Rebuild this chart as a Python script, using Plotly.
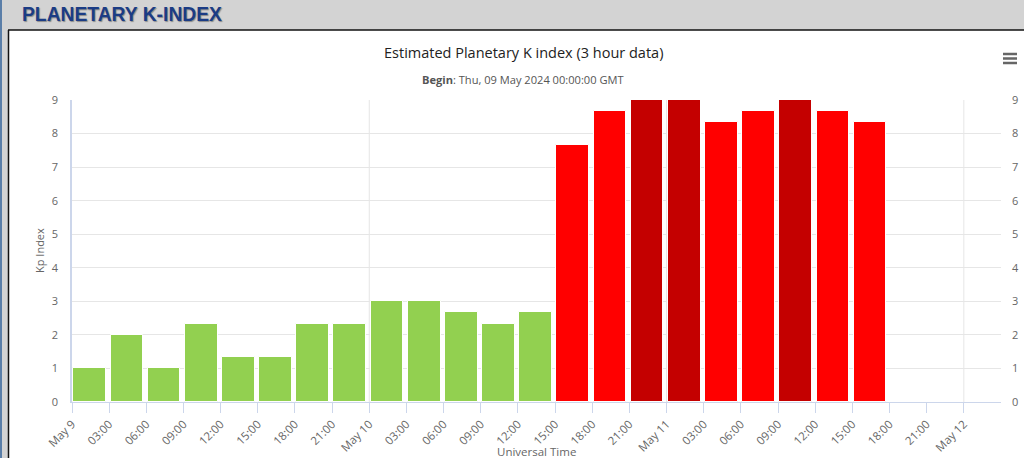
import plotly.graph_objects as go
from datetime import datetime, timedelta

# ---- data ----
start_time = "2024-05-09 00:00"
kp_values = [1, 2, 1, 2.33, 1.33, 1.33, 2.33, 2.33,
             3, 3, 2.67, 2.33, 2.67, 7.67, 8.67, 9,
             9, 8.33, 8.67, 9, 8.67, 8.33]
tick_labels = ["May 9", "03:00", "06:00", "09:00", "12:00", "15:00", "18:00", "21:00",
               "May 10", "03:00", "06:00", "09:00", "12:00", "15:00", "18:00", "21:00",
               "May 11", "03:00", "06:00", "09:00", "12:00", "15:00", "18:00", "21:00",
               "May 12"]
day_boundaries = ["2024-05-10 00:00", "2024-05-11 00:00", "2024-05-12 00:00"]

t0 = datetime.strptime(start_time, "%Y-%m-%d %H:%M")
slot_starts = [t0 + timedelta(hours=3 * i) for i in range(len(kp_values))]
tick_vals = [t0 + timedelta(hours=3 * i) for i in range(len(tick_labels))]
x_end = t0 + timedelta(hours=75)


def kp_color(v):
    if v >= 8.95:
        return "#C40000"
    if v >= 5:
        return "#FF0000"
    return "#92D050"


colors = [kp_color(v) for v in kp_values]

# ---- layout helpers (pixel -> paper) ----
W, H = 1024, 458
L, R, T, B = 72, 1001, 100, 402


def fx(px):
    return (px - L) / (R - L)


def fy(py):
    return (B - py) / (B - T)


HOUR_MS = 3600 * 1000

fig = go.Figure()
fig.add_trace(go.Bar(
    x=slot_starts, y=kp_values,
    offset=0.11 * HOUR_MS, width=2.64 * HOUR_MS,
    marker=dict(color=colors, line=dict(color="white", width=1)),
    hoverinfo="skip", showlegend=False,
))
# helper trace for right axis
fig.add_trace(go.Scatter(
    x=[slot_starts[0]], y=[0], yaxis="y2", mode="markers",
    marker=dict(size=0.1, opacity=0), hoverinfo="skip", showlegend=False,
))

tick_font = dict(family="Open Sans, sans-serif", size=11, color="#666666")
xtick_font = dict(family="Open Sans, sans-serif", size=11.5, color="#666666")

shapes = []
# page background pieces
shapes.append(dict(type="rect", xref="paper", yref="paper", layer="below",
                   x0=fx(0), x1=fx(W), y0=fy(30), y1=fy(0),
                   fillcolor="#D3D3D3", line=dict(width=0)))
shapes.append(dict(type="rect", xref="paper", yref="paper", layer="below",
                   x0=fx(0), x1=fx(8), y0=fy(H), y1=fy(30),
                   fillcolor="#D3D3D3", line=dict(width=0)))
shapes.append(dict(type="rect", xref="paper", yref="paper", layer="below",
                   x0=fx(0), x1=fx(2), y0=fy(H), y1=fy(0),
                   fillcolor="#5A7EA8", line=dict(width=0)))
shapes.append(dict(type="line", xref="paper", yref="paper",
                   x0=fx(8), x1=fx(W), y0=fy(30), y1=fy(30),
                   line=dict(color="#111111", width=1.5)))
shapes.append(dict(type="line", xref="paper", yref="paper",
                   x0=fx(8.5), x1=fx(8.5), y0=fy(30), y1=fy(H),
                   line=dict(color="#111111", width=1.5)))
# hamburger menu icon
for py in (54, 58.5, 63):
    shapes.append(dict(type="line", xref="paper", yref="paper",
                       x0=fx(1003), x1=fx(1017), y0=fy(py), y1=fy(py),
                       line=dict(color="#666666", width=2.5)))
# vertical day grid lines
for d in day_boundaries:
    shapes.append(dict(type="line", xref="x", yref="paper", layer="below",
                       x0=d, x1=d, y0=0, y1=1,
                       line=dict(color="#E6E6E6", width=1)))

annotations = [
    dict(text="PLANETARY K-INDEX", xref="paper", yref="paper",
         x=fx(20), y=fy(14.5), xanchor="left", yanchor="middle", showarrow=False,
         font=dict(family="Liberation Sans, Arial, sans-serif", size=19.3,
                   color="#1B3C85", weight="bold",
                   shadow="1px 1px 1px #8a8a8a")),
    dict(text="Estimated Planetary K index (3 hour data)", xref="paper", yref="paper",
         x=fx(523), y=fy(53), xanchor="center", yanchor="middle", showarrow=False,
         font=dict(family="Open Sans, sans-serif", size=14.5, color="#222222")),
    dict(text="<b>Begin</b>: Thu, 09 May 2024 00:00:00 GMT", xref="paper", yref="paper",
         x=fx(523), y=fy(79), xanchor="center", yanchor="middle", showarrow=False,
         font=dict(family="Open Sans, sans-serif", size=11.1, color="#555555")),
    dict(text="Kp Index", xref="paper", yref="paper", textangle=-90,
         x=fx(39), y=fy(251), xanchor="center", yanchor="middle", showarrow=False,
         font=dict(family="Open Sans, sans-serif", size=11, color="#666666")),
    dict(text="Universal Time", xref="paper", yref="paper",
         x=fx(536), y=fy(451), xanchor="center", yanchor="middle", showarrow=False,
         font=dict(family="Open Sans, sans-serif", size=11.5, color="#666666")),
]

fig.update_layout(
    width=W, height=H,
    margin=dict(l=L, r=W - R, t=T, b=H - B, autoexpand=False),
    paper_bgcolor="white", plot_bgcolor="white",
    bargap=0, hovermode=False,
    shapes=shapes, annotations=annotations,
    xaxis=dict(type="date", range=[t0, x_end], tickvals=tick_vals, ticktext=tick_labels,
               tickangle=-45, ticks="outside", ticklen=10, tickcolor="#CCD6EB",
               showline=True, linecolor="#CCD6EB", linewidth=1,
               showgrid=False, zeroline=False, tickfont=xtick_font, automargin=False),
    yaxis=dict(range=[0, 9], dtick=1, tick0=0, gridcolor="#E6E6E6", gridwidth=1,
               showline=True, linecolor="#CCD6EB", linewidth=1.5, zeroline=False,
               tickfont=tick_font, ticklabelstandoff=10, automargin=False),
    yaxis2=dict(range=[0, 9], dtick=1, tick0=0, overlaying="y", side="right",
                showgrid=False, showline=False, zeroline=False,
                tickfont=tick_font, ticklabelstandoff=10, automargin=False),
)

fig.write_html("out.html", config=dict(displayModeBar=False),
               post_script="document.body.style.margin='0px';document.body.style.overflow='hidden';")
